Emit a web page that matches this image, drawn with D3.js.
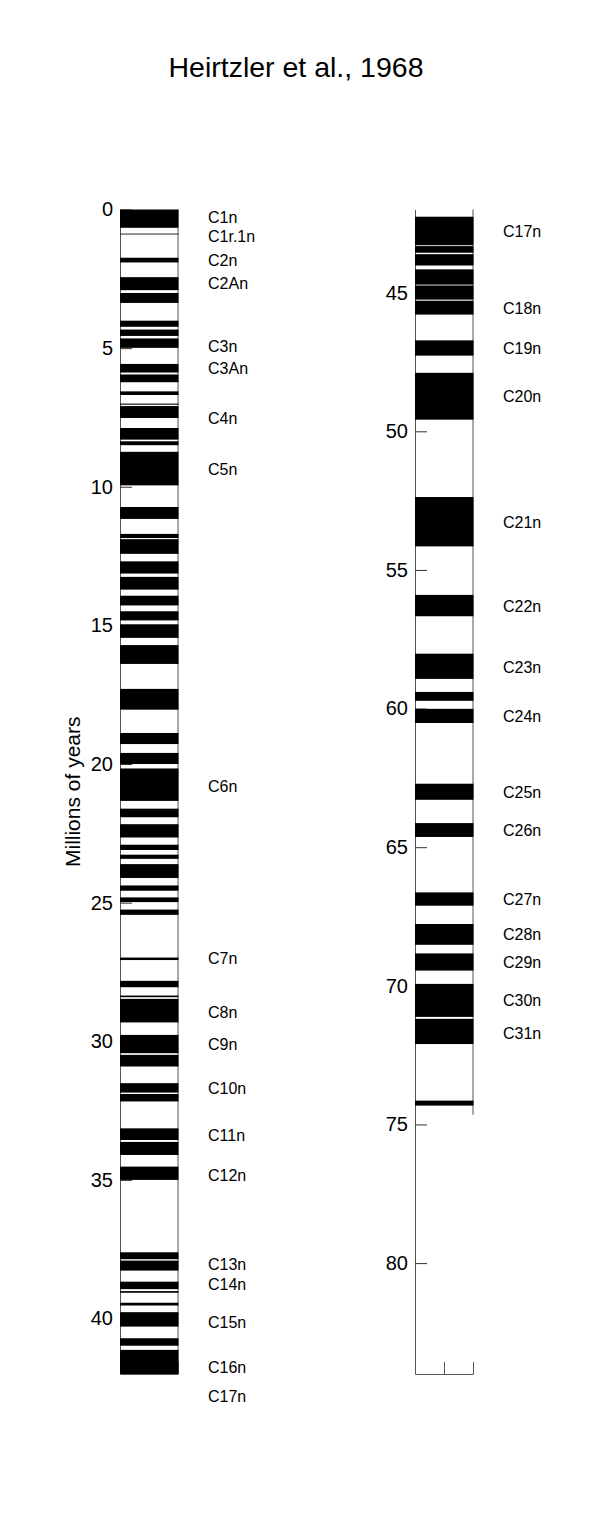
<!DOCTYPE html>
<html>
<head>
<meta charset="utf-8">
<script src="https://cdn.jsdelivr.net/npm/d3@7"></script>
<style>
  body { margin: 0; background: #fff; }
  text { font-family: "Liberation Sans", Arial, sans-serif; fill: #000; }
</style>
</head>
<body>
<div id="chart"></div>
<script>
/* Heirtzler et al. 1968 polarity timescale, two columns */

// normal polarity intervals, Ma [start, end]
const normalUpper = [
  [0, 0.66], [0.87, 0.90], [1.74, 1.91], [2.44, 2.91], [3.01, 3.37],
  [4.01, 4.23], [4.33, 4.56], [4.65, 4.99], [5.57, 5.88], [5.95, 6.23],
  [6.56, 6.69], [7.00, 7.04], [7.09, 7.52], [7.88, 8.30], [8.36, 8.50],
  [8.74, 9.95], [10.73, 11.16], [11.70, 11.85], [11.89, 12.42], [12.69, 13.13],
  [13.25, 13.71], [13.93, 14.28], [14.49, 14.82], [14.96, 15.45], [15.71, 16.39],
  [17.29, 18.04], [18.88, 19.28], [19.60, 20.00], [20.16, 21.33], [21.61, 21.92],
  [22.17, 22.65], [22.91, 23.10], [23.27, 23.42], [23.61, 24.11], [24.38, 24.57],
  [24.81, 24.98], [25.25, 25.44], [26.98, 27.07], [27.82, 28.05], [28.35, 28.41],
  [28.47, 29.32], [29.77, 30.43], [30.49, 30.91], [31.51, 31.85], [31.90, 32.17],
  [33.14, 33.56], [33.63, 34.10], [34.52, 35.00], [37.61, 37.86], [37.91, 38.27],
  [38.67, 38.94], [39.01, 39.07], [39.43, 39.53], [39.77, 40.29], [40.71, 40.98],
  [41.13, 42.00]
];

const normalLower = [
  [42.26, 43.29], [43.32, 43.56], [43.61, 44.02], [44.16, 44.71], [44.74, 45.25],
  [45.29, 45.79], [46.72, 47.27], [47.89, 49.58], [52.37, 54.15], [55.90, 56.67],
  [58.02, 58.93], [59.40, 59.72], [60.01, 60.52], [62.71, 63.29], [64.13, 64.63],
  [66.63, 67.11], [67.77, 68.52], [68.83, 69.45], [69.93, 71.12], [71.19, 72.10],
  [74.14, 74.32]
];

// chron labels and the age they sit at
const chronNames = ["C1n", "C1r.1n", "C2n", "C2An", "C3n", "C3An", "C4n", "C5n", "C6n",
  "C7n", "C8n", "C9n", "C10n", "C11n", "C12n", "C13n", "C14n", "C15n", "C16n", "C17n",
  "C18n", "C19n", "C20n", "C21n", "C22n", "C23n", "C24n", "C25n", "C26n", "C27n",
  "C28n", "C29n", "C30n", "C31n"];
const chronAges = [0.29, 0.97, 1.84, 2.68, 4.93, 5.74, 7.54, 9.38, 20.80,
  27.01, 28.96, 30.13, 31.69, 33.38, 34.82, 38.05, 38.77, 40.15, 41.76, 42.79,
  45.55, 47.02, 48.74, 53.30, 56.31, 58.50, 60.28, 63.01, 64.41, 66.90,
  68.16, 69.15, 70.54, 71.71];

const upperRange = [0, 42], lowerRange = [42, 84];
const upperTicks = [0, 5, 10, 15, 20, 25, 30, 35, 40];
const lowerTicks = [45, 50, 55, 60, 65, 70, 75, 80];
const recordEnd = [42, 74.65];   // where the lower column's outline stops

const width = 603, height = 1536;
const yTop = 209.5, yBottom = 1374;
const colW = 58;
const axisColor = "#555";

const svg = d3.select("#chart")
  .append("svg")
  .attr("width", width)
  .attr("height", height)
  .attr("viewBox", [0, 0, width, height]);

svg.append("rect").attr("width", width).attr("height", height).attr("fill", "#fff");

svg.append("text")
  .attr("x", 296)
  .attr("y", 77)
  .attr("text-anchor", "middle")
  .attr("font-size", 28.5)
  .text("Heirtzler et al., 1968");

function drawColumn(left, range, bands, ticks, outlineEnd) {
  const y = d3.scaleLinear().domain(range).range([yTop, yBottom]);
  const x = d3.scaleLinear().domain([0, 1]).range([left, left + colW]);
  const g = svg.append("g");

  // axes first so the black bands hide the ticks they cross
  const yAxis = g.append("g")
    .attr("transform", `translate(${x(0)},0)`)
    .call(d3.axisLeft(y).tickValues(ticks).tickSizeInner(-12).tickSizeOuter(0).tickPadding(7));
  yAxis.select(".domain").attr("stroke", axisColor);
  yAxis.selectAll(".tick line").attr("stroke", "#333");
  yAxis.selectAll(".tick text")
    .attr("font-size", 20)
    .attr("font-family", "Liberation Sans, Arial, sans-serif");

  const xAxis = g.append("g")
    .attr("transform", `translate(0,${y(range[1])})`)
    .call(d3.axisBottom(x).tickValues([0, 0.5, 1]).tickSizeInner(-12).tickSizeOuter(0).tickFormat(""));
  xAxis.select(".domain").attr("stroke", axisColor);
  xAxis.selectAll(".tick line").attr("stroke", axisColor);

  // outline on the right side of the column
  g.append("line")
    .attr("x1", x(1)).attr("x2", x(1))
    .attr("y1", y(range[0])).attr("y2", y(outlineEnd))
    .attr("stroke", axisColor);

  g.selectAll(".band")
    .data(bands)
    .join("rect")
    .attr("class", "band")
    .attr("x", x(0))
    .attr("width", x(1) - x(0) + 0.5)
    .attr("y", d => y(d[0]))
    .attr("height", d => y(d[1]) - y(d[0]))
    .attr("fill", "#000");

  const labels = chronNames
    .map((name, i) => ({ name, age: chronAges[i] }))
    .filter(d => d.age >= range[0] && d.age < range[1] + 1);

  g.selectAll(".chron")
    .data(labels)
    .join("text")
    .attr("class", "chron")
    .attr("x", x(1) + 30)
    .attr("y", d => y(d.age))
    .attr("dy", "0.35em")
    .attr("font-size", 16)
    .text(d => d.name);

  return y;
}

drawColumn(120, upperRange, normalUpper, upperTicks, upperRange[1]);
drawColumn(415, lowerRange, normalLower, lowerTicks, recordEnd[1]);

svg.append("text")
  .attr("transform", `translate(80,${(yTop + yBottom) / 2}) rotate(-90)`)
  .attr("text-anchor", "middle")
  .attr("font-size", 21)
  .text("Millions of years");
</script>
</body>
</html>
